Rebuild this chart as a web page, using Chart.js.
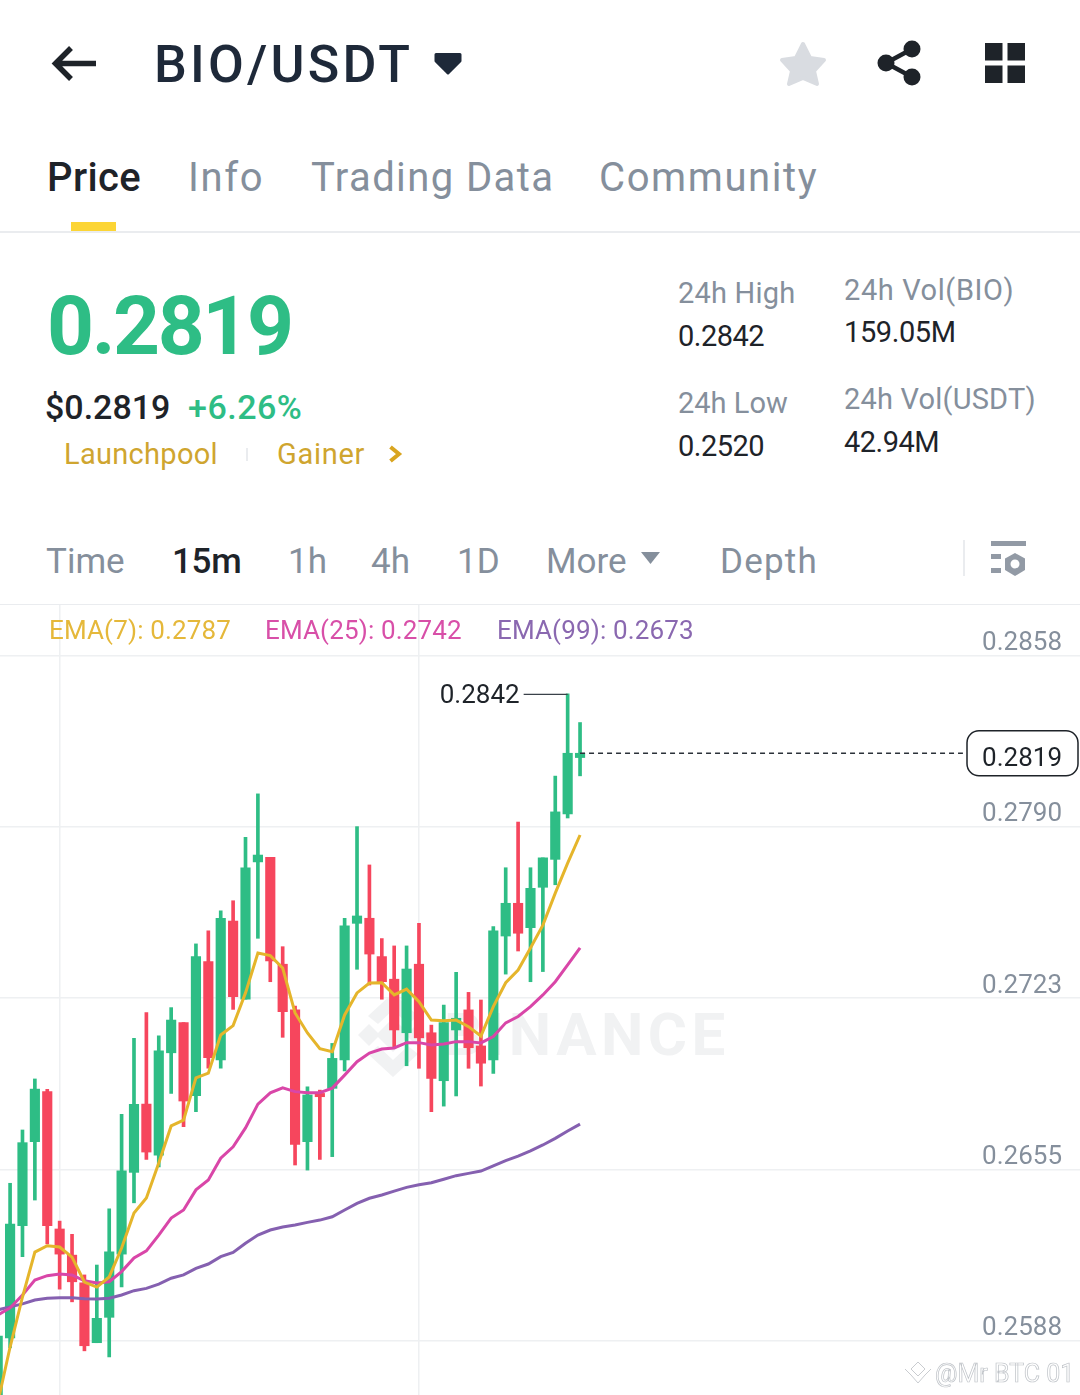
<!DOCTYPE html>
<html>
<head>
<meta charset="utf-8">
<title>BIO/USDT</title>
<script src="https://cdn.jsdelivr.net/npm/chart.js@4"></script>
<style>
html, body { margin: 0; padding: 0; background: #fff; }
body { position: relative; width: 1080px; height: 1395px; overflow: hidden; font-family: Roboto, sans-serif; color: #1E2329; }
.t { position: absolute; white-space: nowrap; line-height: 1; transform: translateY(-50%); z-index: 3; }
.grey { color: #858F9C; }
.line { position: absolute; background: #EAECEF; }
svg { position: absolute; left: 0; top: 0; }
#mycandles { position: absolute; left: 0; top: 605px; z-index: 2; }
</style>
</head>
<body>

<svg width="1080" height="1395" style="z-index:1">
  <!-- top bar icons -->
  <path d="M96 63.5H57M71 48L55.5 63.5L71 79" fill="none" stroke="#1E2329" stroke-width="5.5"/>
  <path d="M436 54.500H460V61L448 73L436 61Z" fill="#1E2939" stroke="#1E2939" stroke-width="3" stroke-linejoin="round"/>
  <path d="M803 44L810 58L824 60L814 71L817 84L803 78L789 84L792 71L782 60L796 58Z" fill="#D9DCE1" stroke="#D9DCE1" stroke-width="4" stroke-linejoin="round"/>
  <path d="M912 49L886 63L912 77" fill="none" stroke="#1E2329" stroke-width="4.5"/>
  <circle cx="912" cy="49" r="8.5" fill="#1E2329"/><circle cx="886" cy="63" r="8.5" fill="#1E2329"/><circle cx="912" cy="77" r="8.5" fill="#1E2329"/>
  <rect x="985" y="43" width="17.5" height="17.5" fill="#1E2329"/><rect x="1007.5" y="43" width="17.5" height="17.5" fill="#1E2329"/>
  <rect x="985" y="65.5" width="17.5" height="17.5" fill="#1E2329"/><rect x="1007.5" y="65.5" width="17.5" height="17.5" fill="#1E2329"/>
  <path d="M390.5 447L399 454L390.5 461" fill="none" stroke="#D9A520" stroke-width="4"/>
  <path d="M641 552H660L650.500 564Z" fill="#858F9C"/>
  <!-- settings icon -->
  <rect x="991" y="541" width="35" height="5" fill="#929AA5"/>
  <rect x="991" y="554" width="10" height="5" fill="#929AA5"/><rect x="991" y="568" width="10" height="5" fill="#929AA5"/>
  <path d="M1015 553L1025 558.500V570L1015 576L1005 570V558.500Z" fill="#929AA5"/><circle cx="1015" cy="564" r="4.500" fill="#fff"/>
  <!-- faded exchange mark behind the candles -->
  <g fill="#F1F2F3">
    <path d="M358 1035L369 1024L380 1035L369 1046Z"/>
    <path d="M376 1035L393 1018L410 1035L393 1052Z"/>
    <path d="M406 1035L417 1024L428 1035L417 1046Z"/>
    <path d="M368 1016L393 993L418 1016L408 1024L393 1010L378 1024Z"/>
    <path d="M368 1054L393 1077L418 1054L408 1046L393 1060L378 1046Z"/>
  </g>
  <text x="444" y="1055" font-family="Roboto" font-weight="700" font-size="60" letter-spacing="4.500" fill="#F1F2F3">BINANCE</text>
</svg>

<div class="t" style="left:154px;top:65px;font-size:52px;font-weight:500;letter-spacing:3.2px;color:#1E2939">BIO/USDT</div>

<div class="t" style="left:47px;top:178px;font-size:40px;font-weight:500;letter-spacing:.4px">Price</div>
<div class="t grey" style="left:188px;top:178px;font-size:40px;letter-spacing:1.6px">Info</div>
<div class="t grey" style="left:311px;top:178px;font-size:40px;letter-spacing:1.4px">Trading Data</div>
<div class="t grey" style="left:599px;top:178px;font-size:40px;letter-spacing:1.6px">Community</div>
<div class="line" style="left:71px;top:222px;width:45px;height:9px;background:#FCD535"></div>
<div class="line" style="left:0;top:231px;width:1080px;height:2px"></div>

<div class="t" style="left:47px;top:326px;font-size:82px;font-weight:700;letter-spacing:-2.4px;color:#2EBD85">0.2819</div>
<div class="t" style="left:45px;top:407px;font-size:34px;font-weight:500">$0.2819</div>
<div class="t" style="left:188px;top:407px;font-size:34px;font-weight:500;letter-spacing:.5px;color:#2EBD85">+6.26%</div>
<div class="t" style="left:64px;top:454px;font-size:29px;letter-spacing:.3px;color:#CFA52F">Launchpool</div>
<div class="line" style="left:246px;top:448px;width:2px;height:13px"></div>
<div class="t" style="left:277px;top:454px;font-size:29px;letter-spacing:.7px;color:#CFA52F">Gainer</div>

<div class="t grey" style="left:678px;top:293px;font-size:29px;letter-spacing:.2px">24h High</div>
<div class="t" style="left:678px;top:336px;font-size:29px;letter-spacing:-.5px">0.2842</div>
<div class="t grey" style="left:844px;top:290px;font-size:29px;letter-spacing:.6px">24h Vol(BIO)</div>
<div class="t" style="left:844px;top:332px;font-size:29px;letter-spacing:-.4px">159.05M</div>
<div class="t grey" style="left:678px;top:403px;font-size:29px">24h Low</div>
<div class="t" style="left:678px;top:446px;font-size:29px;letter-spacing:-.5px">0.2520</div>
<div class="t grey" style="left:844px;top:399px;font-size:29px;letter-spacing:.2px">24h Vol(USDT)</div>
<div class="t" style="left:844px;top:442px;font-size:29px;letter-spacing:-.5px">42.94M</div>

<div class="t grey" style="left:46px;top:561px;font-size:35px">Time</div>
<div class="t" style="left:172px;top:561px;font-size:35px;font-weight:500;letter-spacing:-.3px">15m</div>
<div class="t grey" style="left:288px;top:561px;font-size:35px">1h</div>
<div class="t grey" style="left:371px;top:561px;font-size:35px">4h</div>
<div class="t grey" style="left:457px;top:561px;font-size:35px">1D</div>
<div class="t grey" style="left:546px;top:561px;font-size:35px">More</div>
<div class="t grey" style="left:720px;top:561px;font-size:35px;letter-spacing:1.2px">Depth</div>
<div class="line" style="left:963px;top:540px;width:2px;height:36px"></div>
<div class="line" style="left:0;top:604px;width:1080px;height:1px"></div>

<div class="t" style="left:49px;top:630px;font-size:26px;letter-spacing:.15px;color:#E5B83A">EMA(7): 0.2787</div>
<div class="t" style="left:265px;top:630px;font-size:26px;letter-spacing:.15px;color:#D84FA8">EMA(25): 0.2742</div>
<div class="t" style="left:497px;top:630px;font-size:26px;letter-spacing:.15px;color:#8A68B0">EMA(99): 0.2673</div>

<canvas id="mycandles" width="1080" height="790"></canvas>

<svg width="1080" height="1395" style="z-index:3;pointer-events:none">
  <g fill="none" stroke="#C9CCD0" stroke-width="1">
    <path d="M918 1362L925 1369L918 1376L911 1369Z"/>
    <path d="M905 1369L911 1375L918 1383L925 1375L931 1369"/>
  </g>
</svg>
<div class="t" style="left:935px;top:1373px;font-size:25px;color:#fff;-webkit-text-stroke:0.7px #BFC3C8">@Mr BTC 01</div>

<script>
// candles, oldest first
let opens = [0.25569,0.25892,0.26334,0.26665,0.26862,0.26321,0.26218,0.26109,0.25873,0.25973,0.26222,0.26544,
    0.26813,0.26612,0.27015,0.27134,0.26846,0.27374,0.26987,0.27534,0.27226,0.27767,0.27785,0.27364,
    0.27184,0.26665,0.26855,0.26875,0.26987,0.27525,0.27545,0.27394,0.27305,0.27094,0.27364,0.27094,
    0.26905,0.27105,0.27184,0.27042,0.26987,0.27475,0.27604,0.27508,0.27667,0.27777,0.27956,0.28178]
let highs = [0.25899,0.26501,0.26711,0.26912,0.26871,0.26352,0.26300,0.26140,0.26179,0.26400,0.26773,0.27072,
    0.27173,0.27082,0.27193,0.27134,0.27444,0.27495,0.27574,0.27614,0.27864,0.28035,0.27785,0.27433,
    0.27199,0.26881,0.26868,0.27052,0.27545,0.27906,0.27755,0.27465,0.27436,0.27436,0.27525,0.27124,
    0.27203,0.27332,0.27253,0.27223,0.27512,0.27744,0.27924,0.27744,0.27783,0.28105,0.28429,0.28316]
let lows = [0.25500,0.25853,0.26212,0.26435,0.26262,0.26084,0.26034,0.25841,0.25873,0.25817,0.26093,0.26424,
    0.26595,0.26565,0.26855,0.26724,0.26783,0.26954,0.26954,0.27186,0.27226,0.27466,0.27295,0.27076,
    0.26573,0.26553,0.26595,0.26606,0.26944,0.27344,0.27282,0.27226,0.27033,0.26964,0.26954,0.26783,
    0.26805,0.26845,0.26954,0.26884,0.26934,0.27325,0.27416,0.27295,0.27335,0.27677,0.27940,0.28106]
let closes = [0.25899,0.26340,0.26661,0.26872,0.26334,0.26222,0.26113,0.25861,0.25969,0.26231,0.26550,0.26812,
    0.26624,0.27023,0.27144,0.26825,0.27394,0.26996,0.27545,0.27236,0.27744,0.27794,0.27377,0.27177,
    0.26654,0.26849,0.26842,0.26993,0.27515,0.27554,0.27404,0.27295,0.27105,0.27345,0.27074,0.26914,
    0.27134,0.27151,0.27035,0.26974,0.27495,0.27604,0.27486,0.27663,0.27783,0.27964,0.28195,0.28195]

let ema7 = [0.25635,0.25856,0.26053,0.26230,0.26255,0.26250,0.26210,0.26112,0.26092,0.26132,0.26246,0.26384,
    0.26443,0.26581,0.26727,0.26750,0.26916,0.26935,0.27085,0.27122,0.27251,0.27408,0.27398,0.27349,
    0.27172,0.27093,0.27031,0.27019,0.27164,0.27251,0.27290,0.27291,0.27243,0.27266,0.27216,0.27144,
    0.27141,0.27144,0.27118,0.27081,0.27197,0.27291,0.27341,0.27428,0.27518,0.27644,0.27762,0.27873]
let ema25 = [0.25982,0.26010,0.26061,0.26120,0.26137,0.26144,0.26140,0.26117,0.26108,0.26113,0.26153,0.26207,
    0.26235,0.26297,0.26364,0.26396,0.26475,0.26514,0.26600,0.26645,0.26719,0.26813,0.26857,0.26877,
    0.26862,0.26858,0.26858,0.26876,0.26927,0.26980,0.27014,0.27030,0.27034,0.27055,0.27055,0.27046,
    0.27050,0.27059,0.27059,0.27054,0.27079,0.27133,0.27158,0.27197,0.27243,0.27295,0.27361,0.27428]
let ema99 = [0.26002,0.26014,0.26026,0.26041,0.26048,0.26050,0.26050,0.26046,0.26045,0.26048,0.26061,0.26078,
    0.26087,0.26104,0.26127,0.26140,0.26166,0.26183,0.26212,0.26229,0.26265,0.26297,0.26317,0.26329,
    0.26337,0.26347,0.26356,0.26369,0.26396,0.26422,0.26442,0.26455,0.26470,0.26485,0.26495,0.26503,
    0.26517,0.26531,0.26540,0.26549,0.26570,0.26590,0.26608,0.26629,0.26652,0.26678,0.26707,0.26734]

let tickValues = [0.2858, 0.27905, 0.2723, 0.26555, 0.2588]
let tickLabels = ['0.2858', '0.2790', '0.2723', '0.2655', '0.2588']
let gridCandles = [5, 34]

let lastPrice = 0.28195
let lastLabel = '0.2819'
let highCandle = 46
let highPrice = 0.28429
let highLabel = '0.2842'

const upColor = '#2EBD85'
const downColor = '#F6465D'

function toXY(list){
    return list.map(function(v, i){ return {x: i, y: v} })
}

// wicks and bodies are floating bars, one pair of values per candle
let wickData = highs.map(function(h, i){ return {x: i, y: [lows[i], h]} })
let bodyData = opens.map(function(o, i){ return {x: i, y: [o, closes[i]]} })
let candleColors = opens.map(function(o, i){ return closes[i] >= o ? upColor : downColor })

const priceMarks = {
    id: 'priceMarks',
    afterDatasetsDraw(chart){
        const ctx = chart.ctx
        const xs = chart.scales.x
        const ys = chart.scales.y
        ctx.save()

        // leader to the high of the session
        let hx = xs.getPixelForValue(highCandle)
        let hy = ys.getPixelForValue(highPrice)
        ctx.strokeStyle = '#3A4149'
        ctx.lineWidth = 1.3
        ctx.beginPath()
        ctx.moveTo(hx, hy + 0.5)
        ctx.lineTo(hx - 44, hy + 0.5)
        ctx.stroke()
        ctx.font = '26px Roboto'
        ctx.fillStyle = '#1E2329'
        ctx.textAlign = 'right'
        ctx.textBaseline = 'middle'
        ctx.fillText(highLabel, hx - 48, hy + 3)

        // last price pill
        let py = ys.getPixelForValue(lastPrice)
        ctx.beginPath()
        ctx.roundRect(967, py - 22.5, 111, 45, 12)
        ctx.fillStyle = '#fff'
        ctx.fill()
        ctx.strokeStyle = '#1E2329'
        ctx.lineWidth = 1.5
        ctx.stroke()
        ctx.fillStyle = '#1E2329'
        ctx.fillText(lastLabel, 1062, py + 6)
        ctx.restore()
    }
}

new Chart(document.getElementById('mycandles'), {
    type: 'bar',
    plugins: [priceMarks],
    data: {
        datasets: [
            {
                type: 'line',
                label: 'EMA(7)',
                data: toXY(ema7),
                borderColor: '#E5B52B',
                borderWidth: 3,
                pointRadius: 0,
                order: 1
            },
            {
                type: 'line',
                label: 'EMA(25)',
                data: toXY(ema25),
                borderColor: '#D946A8',
                borderWidth: 3,
                pointRadius: 0,
                order: 2
            },
            {
                type: 'line',
                label: 'EMA(99)',
                data: toXY(ema99),
                borderColor: '#8560B0',
                borderWidth: 3,
                pointRadius: 0,
                order: 3
            },
            {
                type: 'line',
                label: 'Last',
                data: [{x: 47, y: lastPrice}, {x: 77.9, y: lastPrice}],
                borderColor: '#2B3139',
                borderWidth: 1.4,
                borderDash: [5, 4],
                pointRadius: 0,
                order: 4
            },
            {
                label: 'Body',
                data: bodyData,
                backgroundColor: candleColors,
                barThickness: 9.5,
                grouped: false,
                order: 5
            },
            {
                label: 'Wick',
                data: wickData,
                backgroundColor: candleColors,
                barThickness: 3,
                grouped: false,
                order: 6
            }
        ]
    },
    options: {
        responsive: false,
        animation: false,
        devicePixelRatio: 1,
        layout: { padding: 0, autoPadding: false },
        plugins: {
            legend: { display: false },
            tooltip: { enabled: false }
        },
        scales: {
            x: {
                type: 'linear',
                offset: false,
                min: 0.186,
                max: 87.35,
                afterBuildTicks(axis){
                    axis.ticks = gridCandles.map(function(v){ return {value: v} })
                },
                afterFit(axis){
                    axis.height = 0
                    axis.paddingLeft = 0
                    axis.paddingRight = 0
                },
                grid: { color: '#EEF0F2', lineWidth: 1.5, drawTicks: false, offset: false },
                border: { display: false },
                ticks: { display: false }
            },
            y: {
                position: 'right',
                min: 0.25667,
                max: 0.28779,
                afterBuildTicks(axis){
                    axis.ticks = tickValues.map(function(v){ return {value: v} })
                },
                afterFit(axis){
                    axis.width = 0
                    axis.paddingTop = 0
                    axis.paddingBottom = 0
                },
                grid: { color: '#EEF0F2', lineWidth: 1.5, drawTicks: false },
                border: { display: false },
                ticks: {
                    mirror: true,
                    padding: -18,
                    labelOffset: -12,
                    color: '#858F9C',
                    font: { family: 'Roboto', size: 26 },
                    callback: function(v, i){ return tickLabels[i] }
                }
            }
        }
    }
})
</script>
</body>
</html>
